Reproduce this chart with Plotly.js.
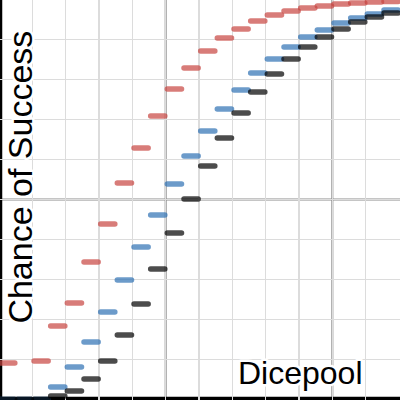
<!DOCTYPE html>
<html>
<head>
<meta charset="utf-8">
<script src="https://cdn.plot.ly/plotly-3.0.1.min.js"></script>
<style>
  html, body { margin: 0; padding: 0; background: #fff; }
  #chart { width: 400px; height: 400px; }
  .scatterlayer .js-line { stroke-linecap: round; }
  .annotation-text { paint-order: stroke; stroke: #ffffff; stroke-width: 5px; stroke-linejoin: round; }
</style>
</head>
<body>
<div id="chart"></div>
<script>
// Dicepool sizes (one segment per pool size)
const dicepool = [0,1,2,3,4,5,6,7,8,9,10,11,12,13,14,15,16,17,18,19,20,21,22,23];

// Chance of success per dicepool, three series
const redChance   = [0.091, null, 0.096, 0.184, 0.241, 0.344, 0.439, 0.541, 0.629, 0.709, 0.776, 0.829,
                     0.871, 0.904, 0.926, 0.946, 0.961, 0.971, 0.979, 0.984, 0.989, 0.991, 0.994, 0.995];
const blueChance  = [0, 0, 0, 0.031, 0.081, 0.144, 0.219, 0.299, 0.381, 0.461, 0.539, 0.609,
                     0.671, 0.726, 0.774, 0.816, 0.851, 0.881, 0.906, 0.924, 0.941, 0.954, 0.964, 0.974];
const blackChance = [0, 0, 0, 0.009, 0.021, 0.051, 0.096, 0.161, 0.239, 0.326, 0.416, 0.501,
                     0.584, 0.654, 0.716, 0.769, 0.814, 0.851, 0.881, 0.906, 0.926, 0.944, 0.956, 0.966];

const yTitle = "Chance of Success";
const xTitle = "Dicepool";

const series = [
  {vals: redChance,   color: "rgba(199,68,64,0.7)"},
  {vals: blueChance,  color: "rgba(45,112,179,0.7)"},
  {vals: blackChance, color: "rgba(0,0,0,0.7)"}
];

const traces = [];
series.forEach(s => {
  dicepool.forEach((d, i) => {
    const v = s.vals[i];
    if (v === null || v === undefined) return;
    traces.push({
      x: [d + 0.1, d + 0.95],
      y: [v, v],
      mode: "lines",
      line: {color: s.color, width: 5.5},
      hoverinfo: "skip",
      showlegend: false
    });
  });
});

const layout = {
  width: 400, height: 400,
  margin: {l: 0, r: 0, t: 0, b: 0},
  paper_bgcolor: "#ffffff",
  plot_bgcolor: "#ffffff",
  showlegend: false,
  xaxis: {
    range: [0.06, 24.06], dtick: 2, tick0: 0,
    showgrid: true, gridcolor: "#dcdcdc", gridwidth: 1.3,
    zeroline: false, showticklabels: false, ticks: "", showline: false, fixedrange: true
  },
  yaxis: {
    range: [-0.00125, 0.99875], dtick: 0.1, tick0: 0,
    showgrid: true, gridcolor: "#dcdcdc", gridwidth: 1.3,
    zeroline: false, showticklabels: false, ticks: "", showline: false, fixedrange: true
  },
  shapes: [
    {type: "line", layer: "between", xref: "x", yref: "paper", x0: 10, x1: 10, y0: 0, y1: 1, line: {color: "#8c8c8c", width: 2}},
    {type: "line", layer: "between", xref: "x", yref: "paper", x0: 20, x1: 20, y0: 0, y1: 1, line: {color: "#8c8c8c", width: 2}},
    {type: "line", layer: "between", xref: "paper", yref: "y", x0: 0, x1: 1, y0: 0.5, y1: 0.5, line: {color: "#8c8c8c", width: 2}},
    {type: "line", layer: "between", xref: "paper", yref: "paper", x0: 0.0025, x1: 0.0025, y0: 0, y1: 1, line: {color: "#000000", width: 2.5}},
    {type: "line", layer: "between", xref: "paper", yref: "paper", x0: 0, x1: 1, y0: 0.004, y1: 0.004, line: {color: "#000000", width: 3.5}}
  ],
  annotations: [
    {text: yTitle, xref: "paper", yref: "paper", x: 0.049, y: 0.5575, xanchor: "center", yanchor: "middle",
     textangle: -90, showarrow: false, font: {family: "Liberation Sans, Arial, sans-serif", size: 34, color: "#000000"}},
    {text: xTitle, xref: "paper", yref: "paper", x: 0.751, y: 0.0675, xanchor: "center", yanchor: "middle",
     showarrow: false, font: {family: "Liberation Sans, Arial, sans-serif", size: 32, color: "#000000"}}
  ]
};

Plotly.newPlot("chart", traces, layout, {staticPlot: true, displayModeBar: false});
</script>
</body>
</html>
